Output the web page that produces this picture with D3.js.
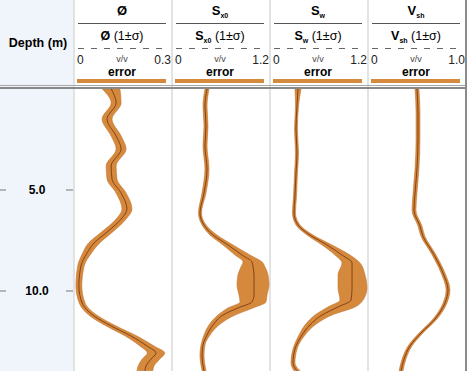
<!DOCTYPE html>
<html>
<head>
<meta charset="utf-8">
<script src="https://cdn.jsdelivr.net/npm/d3@7"></script>
<style>
  body { margin: 0; background: #fff; }
  text { font-family: "Liberation Sans", Arial, sans-serif; }
</style>
</head>
<body>
<div id="chart"></div>
<script>
// depth axis
const depthTicks = [5, 10];
const depthTickLabels = ['5.0', '10.0'];

// track headers
const trackVars = ['Ø', 'S', 'S', 'V'];
const trackSubs = ['', 'x0', 'w', 'sh'];
const scaleMax = [0.3, 1.2, 1.2, 1.0];
const scaleMaxLabels = ['0.3', '1.2', '1.2', '1.0'];

// porosity (v/v) with 1 sigma error
const phiDepth = [0.0, 0.69, 1.49, 2.33, 2.97, 3.81, 4.46, 5.15, 5.94, 6.44, 7.13, 7.62, 8.12, 8.76, 9.75, 10.59, 11.24, 11.73, 12.23, 12.72, 13.07, 13.37, 13.71, 13.95];
const phiVal   = [0.113, 0.130, 0.099, 0.130, 0.147, 0.113, 0.116, 0.147, 0.167, 0.147, 0.095, 0.055, 0.031, 0.010, 0.003, 0.014, 0.055, 0.113, 0.181, 0.235, 0.266, 0.249, 0.232, 0.228];
const phiErr   = [0.030, 0.017, 0.017, 0.017, 0.017, 0.017, 0.017, 0.017, 0.017, 0.017, 0.019, 0.019, 0.015, 0.011, 0.010, 0.010, 0.014, 0.017, 0.020, 0.024, 0.030, 0.030, 0.027, 0.027];

// Sx0 (v/v)
const sx0Depth = [0.0, 0.84, 1.83, 2.82, 3.96, 5.15, 6.14, 6.73, 7.23, 7.72, 8.22, 8.56, 8.81, 9.21, 9.70, 10.20, 10.54, 10.84, 11.19, 11.68, 12.18, 12.67, 13.17, 13.95];
const sx0Val   = [0.423, 0.395, 0.409, 0.395, 0.423, 0.382, 0.327, 0.382, 0.505, 0.709, 0.900, 1.036, 1.050, 1.064, 1.064, 1.064, 1.036, 0.845, 0.641, 0.505, 0.423, 0.368, 0.355, 0.382];
const sx0Lo    = [0.395, 0.368, 0.382, 0.368, 0.395, 0.355, 0.307, 0.355, 0.464, 0.641, 0.805, 0.914, 0.886, 0.845, 0.832, 0.859, 0.873, 0.709, 0.573, 0.450, 0.382, 0.341, 0.327, 0.355];
const sx0Hi    = [0.450, 0.423, 0.436, 0.423, 0.450, 0.409, 0.348, 0.409, 0.559, 0.777, 1.009, 1.173, 1.214, 1.255, 1.268, 1.241, 1.227, 1.050, 0.805, 0.586, 0.464, 0.395, 0.382, 0.409];

// Sw (v/v)
const swDepth = [0.0, 0.84, 1.98, 3.17, 4.16, 5.30, 6.14, 6.73, 7.23, 7.72, 8.22, 8.61, 9.21, 9.85, 10.45, 10.79, 11.19, 11.68, 12.18, 12.87, 13.56, 13.95];
const swVal   = [0.327, 0.314, 0.300, 0.314, 0.300, 0.286, 0.273, 0.327, 0.491, 0.723, 0.927, 1.064, 1.064, 1.064, 1.050, 0.873, 0.655, 0.491, 0.382, 0.286, 0.259, 0.314];
const swLo    = [0.286, 0.293, 0.280, 0.293, 0.280, 0.266, 0.252, 0.300, 0.450, 0.655, 0.832, 0.927, 0.873, 0.873, 0.900, 0.736, 0.559, 0.423, 0.341, 0.259, 0.232, 0.273];
const swHi    = [0.368, 0.334, 0.320, 0.334, 0.320, 0.307, 0.293, 0.355, 0.532, 0.791, 1.036, 1.173, 1.241, 1.268, 1.214, 1.105, 0.791, 0.559, 0.423, 0.314, 0.286, 0.355];

// Vsh (v/v)
const vshDepth = [0.0, 1.19, 2.48, 3.96, 5.15, 6.00, 6.78, 7.30, 8.12, 9.11, 9.95, 10.59, 11.39, 12.08, 12.72, 13.37, 13.95];
const vshVal   = [0.511, 0.523, 0.523, 0.511, 0.489, 0.477, 0.545, 0.580, 0.693, 0.807, 0.864, 0.830, 0.716, 0.557, 0.432, 0.364, 0.330];
const vshErr   = [0.022, 0.022, 0.022, 0.022, 0.022, 0.022, 0.022, 0.022, 0.022, 0.022, 0.022, 0.022, 0.022, 0.022, 0.022, 0.022, 0.022];

const tracks = [
  { depth: phiDepth, val: phiVal, lo: phiVal.map((v, i) => v - phiErr[i]), hi: phiVal.map((v, i) => v + phiErr[i]) },
  { depth: sx0Depth, val: sx0Val, lo: sx0Lo, hi: sx0Hi },
  { depth: swDepth, val: swVal, lo: swLo, hi: swHi },
  { depth: vshDepth, val: vshVal, lo: vshVal.map((v, i) => v - vshErr[i]), hi: vshVal.map((v, i) => v + vshErr[i]) }
];

const width = 474, height = 371;
const depthColW = 74, trackW = 98;
const headerBottom = 89;
const orange = '#d5893d';

const svg = d3.select('#chart').append('svg')
  .attr('width', width)
  .attr('height', height);

// left depth column background
svg.append('rect')
  .attr('x', 0).attr('y', 0)
  .attr('width', depthColW).attr('height', height)
  .attr('fill', '#f0f5fb');

const y = d3.scaleLinear().domain([0, 14]).range([headerBottom, headerBottom + 14 * 20.2]);

// track separators
[0, 1, 2, 3].forEach(i => {
  svg.append('line')
    .attr('x1', depthColW + i * trackW).attr('x2', depthColW + i * trackW)
    .attr('y1', 0).attr('y2', height)
    .attr('stroke', '#dadada').attr('stroke-width', 1.5);
});

svg.append('text')
  .attr('x', 38).attr('y', 47)
  .attr('text-anchor', 'middle')
  .attr('font-size', '12.5px').attr('font-weight', 'bold')
  .text('Depth (m)');

// headers
tracks.forEach((t, i) => {
  let left = depthColW + i * trackW;
  let x0 = left + 4, x1 = left + 92, cx = (x0 + x1) / 2;
  let g = svg.append('g');

  let title = g.append('text').attr('x', cx).attr('y', 15)
    .attr('text-anchor', 'middle').attr('font-size', '13px').attr('font-weight', 'bold');
  title.append('tspan').text(trackVars[i]);
  if (trackSubs[i]) title.append('tspan').attr('font-size', '7px').attr('dy', 3).text(trackSubs[i]);

  g.append('line').attr('x1', x0).attr('x2', x1).attr('y1', 23.5).attr('y2', 23.5)
    .attr('stroke', '#555').attr('stroke-width', 1);

  let sub = g.append('text').attr('x', cx).attr('y', 40)
    .attr('text-anchor', 'middle').attr('font-size', '12.5px');
  sub.append('tspan').attr('font-weight', 'bold').text(trackVars[i]);
  if (trackSubs[i]) sub.append('tspan').attr('font-size', '7px').attr('font-weight', 'bold').attr('dy', 3).text(trackSubs[i]);
  sub.append('tspan').attr('dy', trackSubs[i] ? -3 : 0).text(' (1±σ)');

  g.append('line').attr('x1', x0).attr('x2', x1).attr('y1', 48.5).attr('y2', 48.5)
    .attr('stroke', '#666').attr('stroke-width', 1).attr('stroke-dasharray', '6,7');

  g.append('text').attr('x', x0 - 1).attr('y', 64).attr('font-size', '12px').attr('fill', '#222').text('0');
  g.append('text').attr('x', x1 + 5).attr('y', 64).attr('text-anchor', 'end').attr('font-size', '12px').attr('fill', '#222').text(scaleMaxLabels[i]);
  g.append('text').attr('x', cx).attr('y', 62).attr('text-anchor', 'middle').attr('font-size', '9px').attr('fill', '#444').text('v/v');
  g.append('text').attr('x', cx).attr('y', 75.5).attr('text-anchor', 'middle').attr('font-size', '12px').attr('font-weight', 'bold').text('error');

  g.append('rect').attr('x', x0 - 1).attr('y', 79).attr('width', x1 - x0 + 1).attr('height', 4).attr('fill', orange);
});

// header bottom double line
svg.append('line').attr('x1', 0).attr('x2', 467).attr('y1', 85.5).attr('y2', 85.5).attr('stroke', '#aaa').attr('stroke-width', 1);
svg.append('line').attr('x1', 0).attr('x2', 467).attr('y1', 88).attr('y2', 88).attr('stroke', '#888').attr('stroke-width', 2);

// right frame
svg.append('line').attr('x1', 466).attr('x2', 466).attr('y1', 0).attr('y2', height).attr('stroke', '#8a8a8a').attr('stroke-width', 2);

// depth ticks
let dt = svg.append('g').selectAll('g').data(depthTicks).enter().append('g')
  .attr('transform', d => 'translate(0,' + y(d) + ')');
dt.append('line').attr('x1', 0).attr('x2', 6).attr('stroke', '#777').attr('stroke-width', 1);
dt.append('line').attr('x1', 66).attr('x2', 73).attr('stroke', '#777').attr('stroke-width', 1);
dt.append('text').attr('x', 37).attr('dy', '0.35em').attr('text-anchor', 'middle')
  .attr('font-size', '12px').attr('font-weight', 'bold')
  .text((d, i) => depthTickLabels[i]);

// clip for data
svg.append('clipPath').attr('id', 'plotclip').append('rect')
  .attr('x', depthColW).attr('y', 89).attr('width', 392).attr('height', height - 89);

let plot = svg.append('g').attr('clip-path', 'url(#plotclip)');

tracks.forEach((t, i) => {
  let left = depthColW + i * trackW;
  let x = d3.scaleLinear().domain([0, scaleMax[i]]).range([left + 4, left + 92]);
  let pts = t.depth.map((d, k) => ({ d: d, v: t.val[k], lo: t.lo[k], hi: t.hi[k] }));

  let area = d3.area()
    .y(p => y(p.d))
    .x0(p => x(p.lo))
    .x1(p => x(p.hi))
    .curve(d3.curveMonotoneY);
  let line = d3.line()
    .y(p => y(p.d))
    .x(p => x(p.v))
    .curve(d3.curveMonotoneY);

  plot.append('path').datum(pts).attr('d', area)
    .attr('fill', orange).attr('stroke', '#c27632').attr('stroke-width', 0.6);
  plot.append('path').datum(pts).attr('d', line)
    .attr('fill', 'none').attr('stroke', '#7a3a12').attr('stroke-width', 0.9);
});
</script>
</body>
</html>
